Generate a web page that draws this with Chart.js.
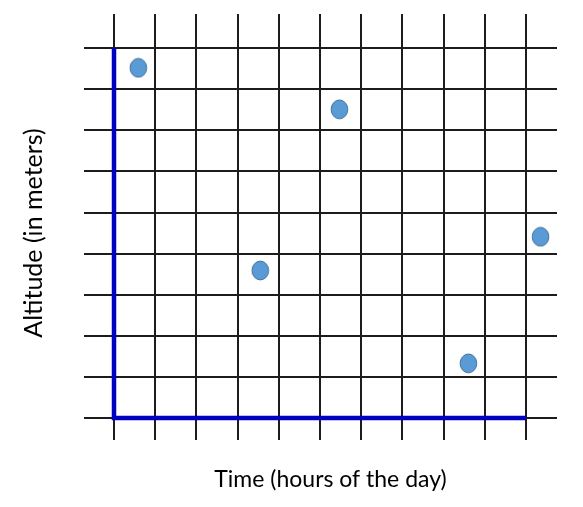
<!DOCTYPE html>
<html>
<head>
<meta charset="utf-8">
<script src="https://cdn.jsdelivr.net/npm/chart.js@4"></script>
<style>
  html, body { margin: 0; padding: 0; background: #fff; }
  canvas { display: block; }
</style>
</head>
<body>
<canvas id="chart" width="583" height="507"></canvas>
<script>
// grid ticks (hours along x, altitude steps along y)
const xTicks = [0, 1, 2, 3, 4, 5, 6, 7, 8, 9, 10];
const yTicks = [0, 1, 2, 3, 4, 5, 6, 7, 8, 9];

// observed points
const timeValues = [0.59, 5.47, 3.55, 10.35, 8.6];
const altitudeValues = [8.52, 7.51, 3.59, 4.41, 1.33];

const xTitle = "Time (hours of the day)";
const yTitle = "Altitude (in meters)";

// slightly tall ellipse used as the marker
const marker = document.createElement("canvas");
marker.width = 19;
marker.height = 21;
const mctx = marker.getContext("2d");
mctx.beginPath();
mctx.ellipse(9.5, 10.5, 8.3, 9.4, 0, 0, Math.PI * 2);
mctx.fillStyle = "#5b9bd5";
mctx.fill();
mctx.lineWidth = 1;
mctx.strokeStyle = "#41719c";
mctx.stroke();

const points = timeValues.map((t, i) => ({ x: t, y: altitudeValues[i] }));

// the blue axis corner: top of y ticks -> origin -> end of x ticks
const xFirst = xTicks[0], xLast = xTicks[xTicks.length - 1];
const yFirst = yTicks[0], yLast = yTicks[yTicks.length - 1];
const axisLine = [
  { x: xFirst, y: yLast },
  { x: xFirst, y: yFirst },
  { x: xLast, y: yFirst },
];

const setTicks = (list) => (scale) => {
  scale.ticks = list.map((v) => ({ value: v }));
};

// axis titles sit a little off the plot centre in the original, so draw them here
const axisTitles = {
  id: "axisTitles",
  afterDraw(chart) {
    const { ctx, chartArea } = chart;
    ctx.save();
    ctx.fillStyle = "#000";
    ctx.textAlign = "center";
    ctx.textBaseline = "alphabetic";

    ctx.font = "23px Lato";
    ctx.fillText(xTitle, (chartArea.left + chartArea.right) / 2 + 10, chartArea.bottom + 47);

    ctx.translate(42, (chartArea.top + chartArea.bottom) / 2 + 6);
    ctx.rotate(-Math.PI / 2);
    ctx.font = "25px Lato";
    ctx.fillText(yTitle, 0, 0);
    ctx.restore();
  },
};

new Chart(document.getElementById("chart"), {
  type: "scatter",
  plugins: [axisTitles],
  data: {
    datasets: [
      {
        data: points,
        pointStyle: marker,
        pointRadius: 9,
        pointHoverRadius: 9,
        order: 0,
      },
      {
        data: axisLine,
        showLine: true,
        borderColor: "#0000c0",
        borderWidth: 4.5,
        pointRadius: 0,
        fill: false,
        order: 1,
      },
    ],
  },
  options: {
    responsive: false,
    animation: false,
    layout: { padding: { left: 84, right: 26, top: 14, bottom: 67 } },
    plugins: { legend: { display: false }, tooltip: { enabled: false } },
    scales: {
      x: {
        type: "linear",
        min: -0.728,
        max: 10.75,
        afterBuildTicks: setTicks(xTicks),
        ticks: { display: false },
        border: { display: false },
        grid: { color: "#1c1c1c", lineWidth: 2, drawTicks: false },
      },
      y: {
        type: "linear",
        min: -0.535,
        max: 9.83,
        afterBuildTicks: setTicks(yTicks),
        ticks: { display: false },
        border: { display: false },
        grid: { color: "#1c1c1c", lineWidth: 2, drawTicks: false },
      },
    },
  },
});
</script>
</body>
</html>
